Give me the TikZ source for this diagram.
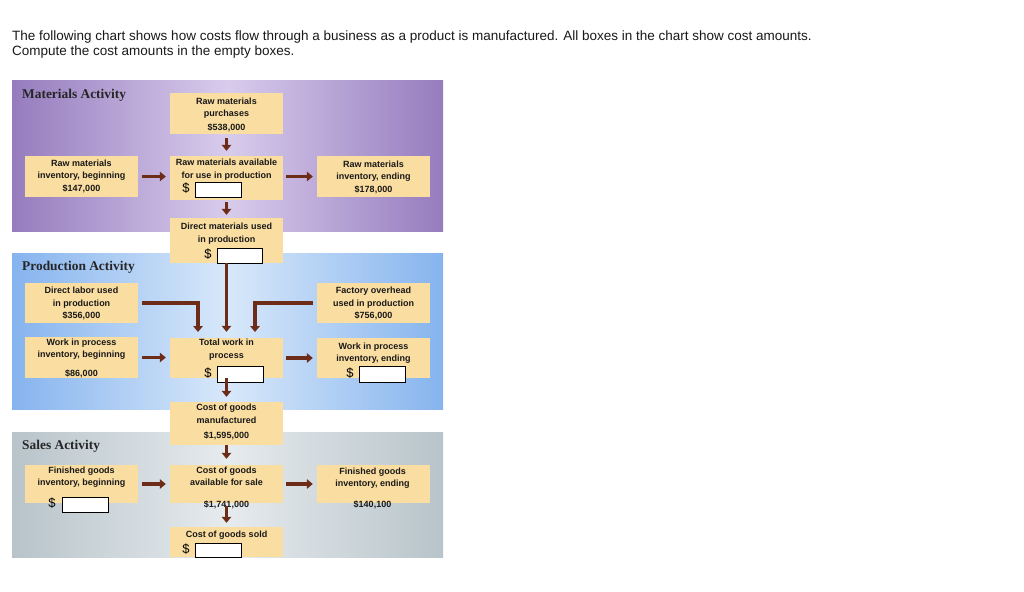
\documentclass[tikz,border=0pt]{standalone}
\usepackage{fontspec}
\setmainfont{Liberation Sans}
\newfontfamily\headserif{Liberation Serif}
\usetikzlibrary{arrows.meta}
\definecolor{boxtan}{RGB}{250,221,160}
\definecolor{flowbrown}{RGB}{108,44,24}
\definecolor{matedge}{RGB}{150,124,190}
\definecolor{matmid}{RGB}{216,204,236}
\definecolor{prodedge}{RGB}{134,180,238}
\definecolor{prodmid}{RGB}{216,232,250}
\definecolor{saleedge}{RGB}{184,196,202}
\definecolor{salemid}{RGB}{230,235,238}

\begin{document}
\begin{tikzpicture}[x=1pt, y=-1pt,
    costbox/.style={fill=boxtan, minimum width=113pt, inner sep=0pt},
    boxtext/.style={font=\fontsize{9}{12.5}\selectfont\bfseries, align=center, inner sep=0pt, text=black!90},
    blank/.style={draw=black, fill=white, line width=0.8pt, minimum width=46pt, minimum height=15pt, inner sep=0pt},
    dollar/.style={font=\fontsize{13}{13}\selectfont, inner sep=0pt},
    bandtitle/.style={font=\headserif\fontsize{13.4}{14}\selectfont\bfseries, anchor=west, inner sep=0pt, text=black!85},
    headtext/.style={font=\fontsize{13.5}{15}\selectfont, anchor=west, inner sep=0pt, text=black!90},
    flow/.style={draw=flowbrown, line width=3.3pt, -{Triangle[length=6pt,width=9.5pt]}}
]
    \useasboundingbox (0,0) rectangle (1024,591);

    % Question text
    \node[headtext] (intro) at (12,37) {The following chart shows how costs flow through a business as a product is manufactured. All boxes in the chart show cost amounts.};
    \node[headtext] (introb) at (12,52) {Compute the cost amounts in the empty boxes.};

    % Bands
    \fill[left color=matedge, right color=matedge, middle color=matmid] (12,81) rectangle (443,231);
    \fill[left color=prodedge, right color=prodedge, middle color=prodmid] (12,253) rectangle (443,409);
    \fill[left color=saleedge, right color=saleedge, middle color=salemid] (12,432) rectangle (443,557);

    % Materials activity
    \node[bandtitle] (matT) at (22,95) {Materials Activity};
    \node[costbox, minimum height=41pt] (purch) at (226.5,113.5) {};
    \node[boxtext] (purchL) at (226.5,115) {Raw materials\\purchases\\[1.5pt]\$538,000};
    \node[costbox, minimum height=41pt] (rmbeg) at (81.5,176.5) {};
    \node[boxtext] (rmbegL) at (81.5,176) {Raw materials\\inventory, beginning\\\$147,000};
    \node[costbox, minimum height=44pt] (rmavail) at (226.5,178) {};
    \node[boxtext] (rmavailL) at (226.5,169.5) {Raw materials available\\for use in production};
    \node[dollar] (rmavailD) at (186,188.5) {\$};
    \node[blank] (rmavailB) at (218,189.5) {};
    \node[costbox, minimum height=41pt] (rmend) at (373.5,176.5) {};
    \node[boxtext] (rmendL) at (373.5,177) {Raw materials\\inventory, ending\\\$178,000};
    \node[costbox, minimum height=45pt] (dmused) at (226.5,240.5) {};
    \node[boxtext] (dmusedL) at (226.5,233.5) {Direct materials used\\in production};
    \node[dollar] (dmusedD) at (208,254) {\$};
    \node[blank, minimum width=45pt] (dmusedB) at (239.5,255.5) {};

    % Production activity
    \node[bandtitle] (prodT) at (22,267) {Production Activity};
    \node[costbox, minimum height=40pt] (dlabor) at (81.5,303) {};
    \node[boxtext] (dlaborL) at (81.5,303.5) {Direct labor used\\in production\\\$356,000};
    \node[costbox, minimum height=40pt] (fohead) at (373.5,303) {};
    \node[boxtext] (foheadL) at (373.5,303.5) {Factory overhead\\used in production\\\$756,000};
    \node[costbox, minimum height=41pt] (wipbeg) at (81.5,357.5) {};
    \node[boxtext] (wipbegL) at (81.5,358.5) {Work in process\\inventory, beginning\\[6.5pt]\$86,000};
    \node[costbox, minimum height=40pt] (wiptot) at (226.5,358) {};
    \node[boxtext] (wiptotL) at (226.5,349.5) {Total work in\\process};
    \node[dollar] (wiptotD) at (208,373) {\$};
    \node[blank, minimum height=16pt] (wiptotB) at (240,374) {};
    \node[costbox, minimum height=40pt] (wipend) at (373.5,358) {};
    \node[boxtext] (wipendL) at (373.5,353) {Work in process\\inventory, ending};
    \node[dollar] (wipendD) at (350,373) {\$};
    \node[blank, minimum height=16pt] (wipendB) at (382.5,374) {};
    \node[costbox, minimum height=43pt] (cogm) at (226.5,423.5) {};
    \node[boxtext] (cogmL) at (226.5,422) {Cost of goods\\manufactured\\[2.5pt]\$1,595,000};
    \coordinate (dlabIn) at (198,338);
    \coordinate (foheadIn) at (255,338);

    % Sales activity
    \node[bandtitle] (saleT) at (22,446) {Sales Activity};
    \node[costbox, minimum height=38pt] (fgbeg) at (81.5,484) {};
    \node[boxtext] (fgbegL) at (81.5,477) {Finished goods\\inventory, beginning};
    \node[dollar] (fgbegD) at (52,503) {\$};
    \node[blank] (fgbegB) at (85,504.5) {};
    \node[costbox, minimum height=38pt] (cogas) at (226.5,484) {};
    \node[boxtext] (cogasL) at (226.5,488) {Cost of goods\\available for sale\\[9.5pt]\$1,741,000};
    \node[costbox, minimum height=38pt] (fgend) at (373.5,484) {};
    \node[boxtext] (fgendL) at (372.5,488.5) {Finished goods\\inventory, ending\\[8.5pt]\$140,100};
    \node[costbox, minimum height=30pt] (cogs) at (226.5,542) {};
    \node[boxtext] (cogsL) at (226.5,535) {Cost of goods sold};
    \node[dollar] (cogsD) at (186,549) {\$};
    \node[blank, minimum height=14pt] (cogsB) at (218,550) {};

    % Flows
    \draw[flow, shorten <=4pt, shorten >=5pt] (purch) -- (rmavail);
    \draw[flow, shorten <=4pt, shorten >=4pt] (rmbeg.east) -- (rmbeg.east -| rmavail.west);
    \draw[flow, shorten <=3pt, shorten >=4pt] (rmavail.east |- rmend) -- (rmend.west);
    \draw[flow, shorten <=2pt, shorten >=3pt] (rmavail) -- (dmused);
    \draw[flow, shorten >=6pt] (dmused.south) -- (wiptot.north);
    \draw[flow, shorten <=4pt, shorten >=6pt] (dlabor.east) -| (dlabIn);
    \draw[flow, shorten <=4pt, shorten >=6pt] (fohead.west) -| (foheadIn);
    \draw[flow, shorten <=4pt, shorten >=4pt] (wipbeg.east) -- (wipbeg.east -| wiptot.west);
    \draw[flow, shorten <=3pt, shorten >=4pt] (wiptot.east |- wipend) -- (wipend.west);
    \draw[flow, shorten >=5pt] (wiptot) -- (cogm);
    \draw[flow, shorten >=6pt] (cogm) -- (cogas);
    \draw[flow, shorten <=4pt, shorten >=4pt] (fgbeg) -- (cogas);
    \draw[flow, shorten <=3pt, shorten >=4pt] (cogas) -- (fgend);
    \draw[flow, shorten <=3pt, shorten >=4pt] (cogas) -- (cogs);
\end{tikzpicture}
\end{document}
